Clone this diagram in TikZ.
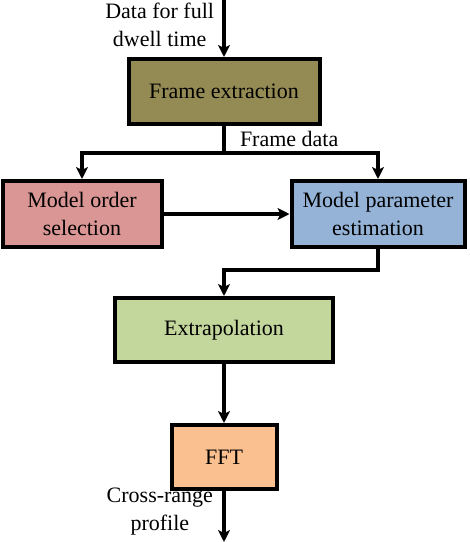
\documentclass[tikz,border=0pt]{standalone}
\usepackage{fontspec}
\setmainfont{Liberation Serif}
\usetikzlibrary{positioning, arrows.meta}
\definecolor{framecol}{HTML}{948A54}
\definecolor{ordercol}{HTML}{D99694}
\definecolor{paramcol}{HTML}{95B3D7}
\definecolor{extracol}{HTML}{C3D69B}
\definecolor{fftcol}{HTML}{FAC090}
\tikzset{>={Stealth[length=12pt,width=12pt,inset=3pt]}, % bold arrow heads
	x=1pt, y=-1pt, % one unit is one pixel of the sketch, y going down
	node distance=54pt, % vertical gap between the blocks
	block/.style={draw, rectangle, align=center, minimum height=66pt, inner sep=2pt}, % sets the properties for each block
	note/.style={align=center, inner sep=0pt}, % the free labels
}

\begin{document}
\begin{tikzpicture}[line width=4pt, font=\fontsize{22}{28}\selectfont]
	\useasboundingbox (0,0) rectangle (470,542);
	% the input comes in from the top
	\coordinate (In) at (224,0);
	\node[block, fill=framecol, minimum width=191pt, minimum height=65pt] (Frame) at (224,91.5) {Frame extraction};
	\draw[->] (In) -- (Frame);
	\node[note, anchor=east] (InText) at (216,25) {Data for full\\dwell time};
	%% split the frames to both branches
	\coordinate (Split) at (224,153);
	\node[block, fill=ordercol, minimum width=159pt] (Order) at (82,214) {Model order\\selection};
	\node[block, fill=paramcol, minimum width=173pt] (Param) at (378,214) {Model parameter\\estimation};
	\draw (Frame) -- (Split);
	\draw[->] (Split) -| (Order);
	\draw[->] (Split) -| (Param);
	\node[note, anchor=west] (FrameText) at (238,139) {Frame data};
	\draw[->] (Order) -- (Param);
	%% then extrapolate and transform
	\node[block, fill=extracol, minimum width=218pt, minimum height=64pt] (Extra) at (224,330) {Extrapolation};
	\draw[->] (Param.south) -- ++(0,21) -| (Extra);
	\node[block, fill=fftcol, minimum width=105pt, minimum height=64pt, below=59pt of Extra] (FFT) {FFT};
	\draw[->] (Extra) -- (FFT);
	\coordinate (Out) at (224,542);
	\draw[->] (FFT) -- (Out);
	\node[note, anchor=east] (OutText) at (215,512) {Cross-range\\profile};
\end{tikzpicture}
\end{document}
